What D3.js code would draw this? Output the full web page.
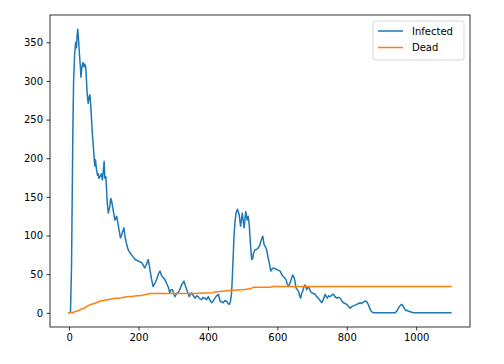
<!DOCTYPE html>
<html>
<head>
<meta charset="utf-8">
<script src="https://cdn.jsdelivr.net/npm/d3@7"></script>
<style>
  body { margin: 0; background: #fff; }
  svg { display: block; font-family: "DejaVu Sans", sans-serif; }
</style>
</head>
<body>
<div id="chart"></div>
<script>
// day / value pairs
const infectedDays = [0, 4, 7, 9, 11, 13, 16, 19, 21, 23, 25, 27, 29, 31, 33, 34, 37, 40, 43, 45, 48, 52, 55, 58, 60, 62, 67, 72, 74, 76, 79, 82, 84, 86, 89, 93, 96, 98, 101, 103, 106, 110, 113, 117, 120, 122, 127, 132, 137, 141, 144, 148, 151, 154, 158, 161, 165, 170, 175, 180, 185, 190, 195, 199, 204, 209, 213, 218, 223, 228, 233, 237, 242, 247, 252, 257, 262, 265, 268, 272, 276, 281, 286, 290, 294, 298, 302, 305, 310, 314, 319, 324, 331, 335, 339, 343, 346, 350, 353, 358, 363, 368, 372, 377, 382, 386, 391, 396, 401, 406, 411, 416, 420, 425, 430, 435, 440, 444, 449, 454, 458, 462, 465, 468, 470, 473, 475, 478, 481, 485, 490, 494, 499, 504, 509, 513, 516, 519, 521, 523, 526, 529, 531, 536, 540, 545, 550, 552, 555, 558, 562, 566, 569, 573, 577, 581, 585, 588, 593, 598, 603, 608, 612, 617, 621, 625, 628, 632, 637, 644, 649, 654, 658, 661, 664, 667, 670, 673, 676, 680, 685, 688, 692, 695, 699, 704, 709, 713, 718, 723, 728, 733, 738, 741, 744, 748, 752, 757, 762, 766, 771, 776, 781, 785, 790, 795, 800, 805, 810, 814, 819, 824, 829, 834, 838, 843, 848, 852, 856, 859, 862, 866, 869, 873, 877, 940, 945, 950, 955, 959, 963, 968, 973, 978, 985, 992, 1100];
const infectedValues = [0, 1, 60, 150, 240, 300, 335, 350, 343, 358, 367, 355, 340, 327, 316, 305, 318, 324, 318, 322, 318, 284, 271, 280, 282, 271, 232, 202, 190, 198, 185, 178, 180, 174, 176, 180, 172, 181, 196, 174, 176, 142, 129, 137, 148, 146, 133, 120, 125, 115, 107, 97, 100, 105, 110, 99, 90, 82, 78, 75, 72, 69, 68, 67, 66, 65, 62, 58, 63, 69, 56, 45, 34, 38, 43, 50, 54, 50, 47, 45, 43, 38, 33, 26, 30, 30, 24, 21, 25, 26, 30, 36, 41, 35, 30, 25, 21, 24, 26, 22, 19, 22, 21, 18, 17, 20, 19, 17, 21, 16, 13, 16, 19, 22, 24, 15, 14, 13, 16, 15, 12, 11, 15, 25, 43, 75, 99, 118, 129, 134, 127, 112, 129, 110, 131, 120, 125, 114, 99, 86, 69, 70, 77, 82, 82, 84, 88, 92, 96, 99, 88, 85, 82, 72, 64, 54, 57, 58, 57, 56, 55, 54, 50, 47, 45, 43, 38, 34, 39, 49, 45, 32, 30, 28, 22, 19, 25, 28, 33, 36, 30, 33, 32, 28, 26, 25, 24, 21, 19, 16, 13, 18, 24, 21, 19, 22, 21, 23, 24, 21, 19, 20, 19, 16, 13, 12, 11, 8, 6, 8, 9, 10, 11, 12, 13, 12, 14, 15, 15, 13, 11, 6, 3, 1, 0, 0, 3, 7, 10, 11, 8, 4, 3, 2, 1, 0, 0];

const deadDays = [0, 12, 14, 21, 28, 36, 43, 50, 58, 65, 72, 79, 88, 98, 110, 122, 134, 146, 158, 170, 182, 194, 204, 214, 224, 233, 300, 360, 415, 420, 463, 500, 521, 531, 579, 588, 1100];
const deadValues = [0, 0, 1, 2, 3, 5, 6, 8, 10, 11, 12, 13, 15, 16, 17, 18, 19, 19, 20, 21, 21, 22, 22, 23, 24, 25, 25, 25, 26, 27, 29, 30, 31, 33, 33, 34, 34];

const xTicks = [0, 200, 400, 600, 800, 1000];
const yTicks = [0, 50, 100, 150, 200, 250, 300, 350];
const seriesNames = ["Infected", "Dead"];
const seriesColors = ["#1f77b4", "#ff7f0e"];

const dimension = {
    width: 504,
    height: 364,
    margin: { top: 15, right: 34, bottom: 37, left: 50 },
};
dimension.boundedWidth = dimension.width - dimension.margin.left - dimension.margin.right;
dimension.boundedHeight = dimension.height - dimension.margin.top - dimension.margin.bottom;

const infected = infectedDays.map((d, i) => ({ x: d, y: infectedValues[i] }));
const dead = deadDays.map((d, i) => ({ x: d, y: deadValues[i] }));

// matplotlib style 5% padding
const xMax = d3.max(infectedDays);
const yMax = d3.max(infectedValues);
const xScale = d3.scaleLinear()
    .domain([-xMax * 0.05, xMax * 1.05])
    .range([0, dimension.boundedWidth]);
const yScale = d3.scaleLinear()
    .domain([-yMax * 0.05, yMax * 1.05])
    .range([dimension.boundedHeight, 0]);

const wrapper = d3.select("#chart")
    .append("svg")
    .attr("width", dimension.width)
    .attr("height", dimension.height);

const bounds = wrapper.append("g")
    .attr("transform", `translate(${dimension.margin.left},${dimension.margin.top})`);

bounds.append("clipPath").attr("id", "clip")
    .append("rect")
    .attr("width", dimension.boundedWidth)
    .attr("height", dimension.boundedHeight);

const line = d3.line()
    .x(d => xScale(d.x))
    .y(d => yScale(d.y));

const lines = bounds.append("g").attr("clip-path", "url(#clip)");
[infected, dead].forEach((series, i) => {
    lines.append("path")
        .datum(series)
        .attr("d", line)
        .attr("fill", "none")
        .attr("stroke", seriesColors[i])
        .attr("stroke-width", 1.5)
        .attr("stroke-linejoin", "round")
        .attr("stroke-linecap", "square");
});

// AXES
const xAxis = d3.axisBottom(xScale).tickValues(xTicks).tickFormat(d3.format("d"))
    .tickSize(3.5).tickPadding(3.5).tickSizeOuter(0);
const yAxis = d3.axisLeft(yScale).tickValues(yTicks).tickFormat(d3.format("d"))
    .tickSize(3.5).tickPadding(3.5).tickSizeOuter(0);

const xg = bounds.append("g")
    .attr("transform", `translate(0,${dimension.boundedHeight})`)
    .call(xAxis);
const yg = bounds.append("g").call(yAxis);

[xg, yg].forEach(g => {
    g.select(".domain").remove();
    g.selectAll(".tick line").attr("stroke", "#000").attr("stroke-width", 0.8);
    g.selectAll(".tick text")
        .attr("fill", "#000")
        .style("font-family", "'DejaVu Sans', sans-serif")
        .style("font-size", "10px");
});

// spines
bounds.append("rect")
    .attr("width", dimension.boundedWidth)
    .attr("height", dimension.boundedHeight)
    .attr("fill", "none")
    .attr("stroke", "#000")
    .attr("stroke-width", 0.8);

// LEGEND
const legend = bounds.append("g")
    .attr("transform", `translate(${dimension.boundedWidth - 97},6)`);
legend.append("rect")
    .attr("width", 91)
    .attr("height", 39)
    .attr("rx", 2.5)
    .attr("fill", "#fff")
    .attr("fill-opacity", 0.8)
    .attr("stroke", "#cccccc")
    .attr("stroke-width", 0.8);

seriesNames.forEach((name, i) => {
    const y = 10 + i * 16.5;
    legend.append("line")
        .attr("x1", 5).attr("x2", 30)
        .attr("y1", y).attr("y2", y)
        .attr("stroke", seriesColors[i])
        .attr("stroke-width", 1.5);
    legend.append("text")
        .attr("x", 39)
        .attr("y", y)
        .attr("dy", "0.35em")
        .attr("fill", "#000")
        .style("font-size", "10px")
        .text(name);
});
</script>
</body>
</html>
